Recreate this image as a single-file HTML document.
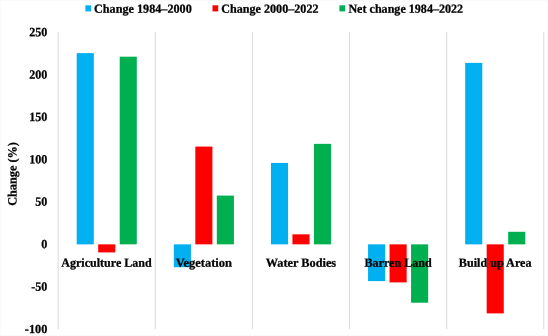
<!DOCTYPE html>
<html><head><meta charset="utf-8"><title>Change chart</title>
<style>
html,body{margin:0;padding:0;background:#fff;}
svg{display:block;}
text{font-family:"Liberation Serif",serif;font-weight:bold;fill:#000;stroke:#000;stroke-width:0.25px;}
</style></head>
<body>
<svg width="548" height="336" viewBox="0 0 548 336">
<rect width="548" height="336" fill="#fff"/>
<rect x="0.5" y="0.5" width="547" height="335" fill="none" stroke="#fafafa" stroke-width="1"/>
<g stroke="#dcdcdc" stroke-width="1.1">
<line x1="58.15" y1="32" x2="58.15" y2="329"/>
<line x1="155.27" y1="32" x2="155.27" y2="329"/>
<line x1="252.39" y1="32" x2="252.39" y2="329"/>
<line x1="349.51" y1="32" x2="349.51" y2="329"/>
<line x1="446.63" y1="32" x2="446.63" y2="329"/>
<line x1="543.75" y1="32" x2="543.75" y2="329"/>
</g>
<g fill="#00b0f0">
<rect x="76.70" y="53.13" width="17.1" height="191.22"/>
<rect x="173.82" y="244.35" width="17.1" height="22.85"/>
<rect x="270.94" y="162.94" width="17.1" height="81.41"/>
<rect x="368.06" y="244.35" width="17.1" height="36.76"/>
<rect x="465.18" y="62.88" width="17.1" height="181.47"/>
</g>
<g fill="#ff0000">
<rect x="98.20" y="244.35" width="17.1" height="8.06"/>
<rect x="195.32" y="146.58" width="17.1" height="97.77"/>
<rect x="292.44" y="234.34" width="17.1" height="10.01"/>
<rect x="389.56" y="244.35" width="17.1" height="38.03"/>
<rect x="486.68" y="244.35" width="17.1" height="69.03"/>
</g>
<g fill="#00b050">
<rect x="119.70" y="56.69" width="17.1" height="187.66"/>
<rect x="216.82" y="195.59" width="17.1" height="48.76"/>
<rect x="313.94" y="143.86" width="17.1" height="100.49"/>
<rect x="411.06" y="244.35" width="17.1" height="58.38"/>
<rect x="508.18" y="231.80" width="17.1" height="12.55"/>
</g>
<text transform="translate(47.3,36.3) rotate(0.03) scale(0.953,1)" font-size="12.7" text-anchor="end">250</text>
<text transform="translate(47.3,78.69) rotate(0.03) scale(0.953,1)" font-size="12.7" text-anchor="end">200</text>
<text transform="translate(47.3,121.08) rotate(0.03) scale(0.953,1)" font-size="12.7" text-anchor="end">150</text>
<text transform="translate(47.3,163.47) rotate(0.03) scale(0.953,1)" font-size="12.7" text-anchor="end">100</text>
<text transform="translate(47.3,205.86) rotate(0.03) scale(0.953,1)" font-size="12.7" text-anchor="end">50</text>
<text transform="translate(47.3,248.25) rotate(0.03) scale(0.953,1)" font-size="12.7" text-anchor="end">0</text>
<text transform="translate(47.3,290.64) rotate(0.03) scale(0.953,1)" font-size="12.7" text-anchor="end">-50</text>
<text transform="translate(47.3,333.03) rotate(0.03) scale(0.996,1)" font-size="12.3" text-anchor="end">-100</text>
<text transform="translate(16.6,174) rotate(-89.97) scale(0.967,1)" font-size="12.7" text-anchor="middle">Change (%)</text>
<text transform="translate(106.5,266.7) rotate(0.03) scale(0.972,1)" font-size="12.4" text-anchor="middle">Agriculture Land</text>
<text transform="translate(203.8,266.7) rotate(0.03) scale(1.005,1)" font-size="12.4" text-anchor="middle">Vegetation</text>
<text transform="translate(300.9,266.7) rotate(0.03) scale(0.992,1)" font-size="12.4" text-anchor="middle">Water Bodies</text>
<text transform="translate(398.1,266.7) rotate(0.03) scale(0.977,1)" font-size="12.4" text-anchor="middle">Barren Land</text>
<text transform="translate(495.2,266.7) rotate(0.03) scale(0.98,1)" font-size="12.4" text-anchor="middle">Build up Area</text>
<rect x="85.4" y="5.3" width="5.7" height="6.1" fill="#00b0f0"/>
<text transform="translate(94.0,12.75) rotate(0.03) scale(0.983,1)" font-size="12.4" text-anchor="start">Change 1984–2000</text>
<rect x="212.5" y="5.3" width="5.7" height="6.1" fill="#ff0000"/>
<text transform="translate(221.3,12.75) rotate(0.03) scale(0.977,1)" font-size="12.4" text-anchor="start">Change 2000–2022</text>
<rect x="339.4" y="5.3" width="5.7" height="6.1" fill="#00b050"/>
<text transform="translate(348.4,12.75) rotate(0.03) scale(0.975,1)" font-size="12.4" text-anchor="start">Net change 1984–2022</text>
</svg>
</body></html>
